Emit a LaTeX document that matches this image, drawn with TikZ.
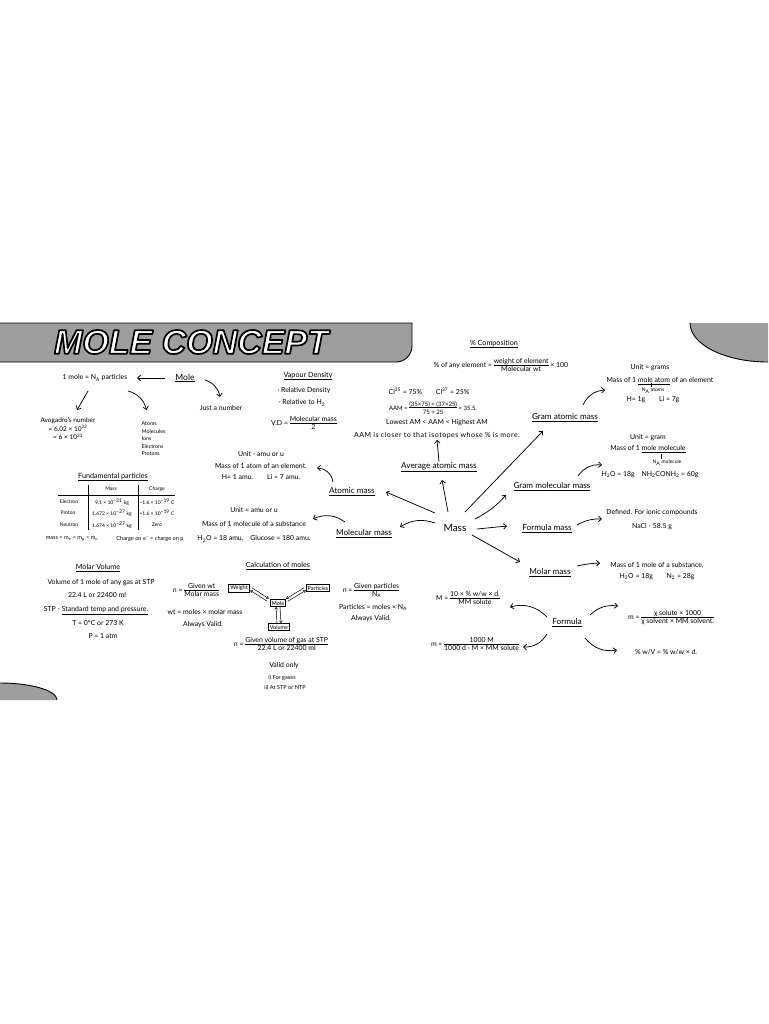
\documentclass[tikz,border=0pt]{standalone}
\usepackage{fontspec}
\setmainfont{Lato}
\newfontfamily\titlefont{Liberation Sans}
\usepackage{xcolor}
\usepackage{tikz}
\usetikzlibrary{arrows.meta, positioning}
\definecolor{bannergray}{RGB}{158,158,158}
\newcommand{\frc}[2]{\begin{tabular}{@{}c@{}}#1\\[-1.5pt]\hline\rule{0pt}{6.5pt}#2\end{tabular}}

\begin{document}
\begin{tikzpicture}[x=1pt, y=-1pt,
    txt/.style={font=\fontsize{6.9}{8}\selectfont, inner sep=0.5pt},
    small/.style={font=\fontsize{5}{6}\selectfont, inner sep=0.5pt},
    head/.style={font=\fontsize{7.2}{9}\selectfont, inner sep=0.5pt},
    big/.style={font=\fontsize{8.2}{10}\selectfont, inner sep=0.5pt},
    hand/.style={-{Straight Barb[length=3pt,width=5.5pt]}, line width=0.75pt},
    dtip/.style={-{Straight Barb[length=2pt,width=3pt]}, line width=0.5pt},
    box/.style={draw, line width=0.6pt, inner sep=1.5pt, font=\fontsize{5.5}{6.5}\selectfont}]

    \useasboundingbox (0,0) rectangle (768,1024);
    \fill[white] (0,0) rectangle (768,1024);

    % banner shapes
    \draw[fill=bannergray, line width=0.9pt] (0,323) -- (412,323) -- (412,346)
        arc[start angle=0, end angle=90, radius=16] -- (0,362);
    \fill[bannergray] (690,323) arc[start angle=180, end angle=90, x radius=78, y radius=39] -- (768,323) -- cycle;
    \draw[line width=0.9pt] (690,323) arc[start angle=180, end angle=90, x radius=78, y radius=39];
    \fill[bannergray] (0,683) arc[start angle=270, end angle=360, x radius=57, y radius=17] -- (0,700) -- cycle;
    \draw[line width=0.9pt] (0,683) arc[start angle=270, end angle=360, x radius=57, y radius=17];

    \node[inner sep=0pt, font=\titlefont\bfseries\itshape\fontsize{34}{36}\selectfont\addfontfeatures{FakeBold=5}] (title) at (191,342)
        {\special{pdf:literal direct 1 j}\special{pdf:bcolor [1 1 1] [0 0 0]}MOLE CONCEPT\special{pdf:ecolor}};

    % mole
    \node[txt] (onemole) at (95,378) {1 mole = N\textsubscript{A} particles};
    \node[font=\fontsize{8.5}{10}\selectfont, inner sep=0.5pt] (mole) at (185,378) {\underline{Mole}};
    \node[txt, font=\fontsize{6.5}{8.5}\selectfont, align=center] (avog) at (68,429)
        {Avogadro's number\\= 6.02 × 10\textsuperscript{23}\\= 6 × 10\textsuperscript{23}};
    \node[small, font=\fontsize{5.3}{7.5}\selectfont, align=left, anchor=west] (kinds) at (141,439)
        {Atoms\\Molecules\\Ions\\Electrons\\Protons};
    \node[txt] (justnum) at (221,408) {Just a number};

    \draw[hand] ([shift={(-20,0)}]mole.center) -- ([shift={(42,0)}]onemole.center);
    \draw[hand] ([shift={(-7,13)}]onemole.center) -- ([shift={(9,-19)}]avog.center);
    \draw[hand] ([shift={(33,13)}]onemole.center) to[bend left=30] ([shift={(-7,-29)}]kinds.center);
    \draw[hand] ([shift={(20,2)}]mole.center) to[bend left=30] ([shift={(-1,-11)}]justnum.center);

    % vapour density
    \node[head] (vdhead) at (308,376) {\underline{Vapour Density}};
    \node[txt] (vdrel1) at (304,391) {· Relative Density};
    \node[txt] (vdrel2) at (302,403) {· Relative to H\textsubscript{2}};
    \node[txt] (vdform) at (304,424) {V.D = \frc{Molecular mass}{2}};

    % percentage composition
    \node[head] (pchead) at (494,344) {\underline{\% Composition}};
    \node[txt] (pcform) at (501,366) {\% of any element = \frc{weight of element}{Molecular wt} × 100};
    \node[txt] (clline) at (429,391) {Cl\textsuperscript{35} = 75\%\qquad Cl\textsuperscript{37} = 25\%};
    \node[txt, font=\fontsize{6}{7}\selectfont] (aamform) at (433,409) {AAM = \frc{(35×75) + (37×25)}{75 + 25} = 35.5.};
    \node[txt] (lowest) at (437,423) {Lowest AM < AAM < Highest AM};
    \node[txt, font=\fontsize{7}{8}\selectfont\addfontfeatures{LetterSpace=7}] (closer) at (437,436) {AAM is closer to that isotopes whose \% is more.};
    \node[big] (avg) at (439,467) {\underline{Average atomic mass}};
    \draw[hand] (avg.north) -- (closer.south);

    % mass and its kinds
    \node[font=\fontsize{10}{12}\selectfont, inner sep=0.5pt] (mass) at (455,528) {Mass};
    \node[big] (atomic) at (352,492) {\underline{Atomic mass}};
    \node[big] (molec) at (364,534) {\underline{Molecular mass}};
    \node[big] (gam) at (565,418) {\underline{Gram atomic mass}};
    \node[big] (gmm) at (552,487) {\underline{Gram molecular mass}};
    \node[big] (fm) at (547,529) {\underline{Formula mass}};
    \node[big] (molar) at (550,573) {\underline{Molar mass}};

    \draw[hand] ([shift={(-20,-15)}]mass.center) -- ([shift={(34,0)}]atomic.center);
    \draw[hand] ([shift={(-7,-16)}]mass.center) -- ([shift={(3,13)}]avg.center);
    \draw[hand] ([shift={(10,-16)}]mass.center) -- ([shift={(-22,13)}]gam.center);
    \draw[hand] ([shift={(20,-9)}]mass.center) to[bend right=10] ([shift={(-46,8)}]gmm.center);
    \draw[hand] ([shift={(22,1)}]mass.center) -- ([shift={(-40,-3)}]fm.center);
    \draw[hand] ([shift={(17,7)}]mass.center) -- ([shift={(-30,-11)}]molar.center);
    \draw[hand] ([shift={(-20,-5)}]mass.center) to[bend right=25] ([shift={(36,-7)}]molec.center);

    % atomic / molecular mass notes
    \node[txt, font=\fontsize{6.9}{11.5}\selectfont, align=center] (atomtxt) at (261,466)
        {Unit - amu or u\\Mass of 1 atom of an element.\\H= 1 amu.\qquad Li = 7 amu.};
    \node[txt, font=\fontsize{6.9}{14}\selectfont, align=center] (molectxt) at (254,525)
        {Unit = amu or u\\Mass of 1 molecule of a substance\\H\textsubscript{2}O = 18 amu.\quad Glucose = 180 amu.};
    \draw[hand] ([shift={(-19,-10)}]atomic.center) to[bend right=40] ([shift={(56,2)}]atomtxt.center);
    \draw[hand] ([shift={(-19,-12)}]molec.center) to[bend right=30] ([shift={(59,-6)}]molectxt.center);

    % gram atomic mass notes
    \node[txt] (gamunit) at (650,368) {Unit = grams};
    \node[txt] (gamdef) at (660,381) {Mass of 1 \underline{mole atom} of an element};
    \node[small] (gamna) at (653,391) {N\textsubscript{A} atoms};
    \node[txt] (gamex) at (653,400) {H= 1g\qquad Li = 7g};
    \draw[line width=0.4pt] ([shift={(-2,-1)}]gamna.north) -- ++(0,-4);
    \draw[hand] ([shift={(18,-13)}]gam.center) to[bend left=30] ([shift={(-55,9)}]gamdef.center);

    % gram molecular mass notes
    \node[txt] (gmmunit) at (648,438) {Unit = gram};
    \node[txt] (gmmdef) at (648,449) {Mass of 1 \underline{mole molecule}};
    \node[small] (gmmna) at (667,463) {N\textsubscript{A} molecule};
    \node[txt] (gmmex) at (650,475) {H\textsubscript{2}O = 18g\quad NH\textsubscript{2}CONH\textsubscript{2} = 60g};
    \draw[line width=0.4pt] ([shift={(-6,-1)}]gmmna.north) -- ++(0,-5);
    \draw[hand] ([shift={(26,-11)}]gmm.center) to[bend left=30] ([shift={(-46,16)}]gmmdef.center);

    % formula mass / molar mass notes
    \node[txt] (fmdef) at (652,513) {Defined. For ionic compounds};
    \node[txt] (fmex) at (652,527) {NaCl - 58.5 g};
    \node[txt] (molardef) at (657,565) {Mass of 1 mole of a substance.};
    \node[txt] (molarex) at (657,577) {H\textsubscript{2}O = 18g\qquad N\textsubscript{2} = 28g};
    \draw[hand] ([shift={(30,-4)}]fm.center) to[bend left=15] ([shift={(-50,6)}]fmdef.center);
    \draw[hand] ([shift={(27,-7)}]molar.center) to[bend left=5] ([shift={(-57,-2)}]molardef.center);

    % fundamental particles
    \node[head] (fphead) at (113,477) {\underline{Fundamental particles}};
    \node[small] (thmass) at (111,489) {Mass};
    \node[small] (thcharge) at (157,489) {Charge};
    \node[small] (electron) at (69,502) {Electron};
    \node[small] (emass) at (112,502) {9.1 × 10\textsuperscript{−31} kg};
    \node[small] (echarge) at (157,502) {−1.6 × 10\textsuperscript{−19} C};
    \node[small] (proton) at (68,513) {Proton};
    \node[small] (pmass) at (112,513) {1.672 × 10\textsuperscript{−27} kg};
    \node[small] (pcharge) at (157,513) {+1.6 × 10\textsuperscript{−19} C};
    \node[small] (neutron) at (69,525) {Neutron};
    \node[small] (nmass) at (112,525) {1.674 × 10\textsuperscript{−27} kg};
    \node[small] (ncharge) at (157,525) {Zero};
    \draw[line width=0.5pt] (58,495) -- (175,495);
    \draw[line width=0.5pt] (88,485) -- (88,530);
    \draw[line width=0.5pt] (138,485) -- (138,530);
    \node[small, font=\fontsize{5.6}{6.5}\selectfont] (massorder) at (72,539) {mass = m\textsubscript{e} < m\textsubscript{p} < m\textsubscript{n}};
    \node[small, font=\fontsize{5.6}{6.5}\selectfont] (chargeeq) at (150,539) {Charge on e\textsuperscript{−} = charge on p};

    % molar volume
    \node[head] (mvhead) at (98,568) {\underline{Molar Volume}};
    \node[txt] (mvdef) at (101,583) {Volume of 1 mole of any gas at STP};
    \node[txt] (mvval) at (97,595) {22.4 L or 22400 ml};
    \node[txt] (mvstp) at (96,611) {STP - \underline{Standard temp and pressure.}};
    \node[txt] (mvtemp) at (98,623) {T = 0°C or 273 K};
    \node[txt] (mvpres) at (103,636) {P = 1 atm};

    % calculation of moles
    \node[head] (calchead) at (278,566) {\underline{Calculation of moles}};
    \node[box] (weight) at (239,588) {Weight};
    \node[box] (partbox) at (318,588) {Particles};
    \node[box] (molebox) at (278,603) {Mole};
    \node[box] (volbox) at (279,627) {Volume};
    \draw[dtip] ([shift={(-10.8,-1.7)}]molebox.center) -- ([shift={(11.2,2.3)}]weight.center);
    \draw[dtip] ([shift={(12.8,-0.3)}]weight.center) -- ([shift={(-9.2,-4.3)}]molebox.center);
    \draw[dtip] ([shift={(9.8,-1.7)}]molebox.center) -- ([shift={(-12.2,2.3)}]partbox.center);
    \draw[dtip] ([shift={(-13.8,-0.3)}]partbox.center) -- ([shift={(8.2,-4.3)}]molebox.center);
    \draw[dtip] ([shift={(-2,-4)}]volbox.center) -- ([shift={(-2,4)}]molebox.center);
    \draw[dtip] ([shift={(2,4)}]molebox.center) -- ([shift={(2,-4)}]volbox.center);

    \node[txt] (nwt) at (196,591) {n = \frc{Given wt}{Molar mass}};
    \node[txt] (wtmoles) at (205,612) {wt = moles × molar mass};
    \node[txt] (valid1) at (203,625) {Always Valid.};
    \node[txt] (npart) at (371,591) {n = \frc{Given particles}{N\textsubscript{A}}};
    \node[txt] (partmoles) at (373,607) {Particles = moles × N\textsubscript{A}};
    \node[txt] (valid2) at (371,619) {Always Valid.};
    \node[txt] (nvol) at (281,645) {n = \frc{Given volume of gas at STP}{22.4 L or 22400 ml}};
    \node[txt] (validonly) at (284,666) {Valid only};
    \node[small, font=\fontsize{5.6}{6.5}\selectfont] (forgas) at (282,678) {i) For gases};
    \node[small, font=\fontsize{5.6}{6.5}\selectfont] (atstp) at (285,688) {ii) At STP or NTP};

    % formula
    \node[txt] (Mform) at (468,599) {M = \frc{10 × \% w/w × d.}{MM solute}};
    \node[txt] (mform) at (475,645) {m = \frc{1000 M}{1000 d - M × MM solute}};
    \node[big] (formula) at (567,623) {\underline{Formula}};
    \node[txt] (xform) at (671,618) {m = \frc{χ solute × 1000}{χ solvent × MM solvent.}};
    \node[txt] (wvform) at (666,652) {\% w/V = \% w/w × d.};
    \draw[hand] ([shift={(-20,-6)}]formula.center) to[bend right=30] ([shift={(42,8)}]Mform.center);
    \draw[hand] ([shift={(-20,11)}]formula.center) to[bend left=30] ([shift={(48,2)}]mform.center);
    \draw[hand] ([shift={(23,-8)}]formula.center) to[bend left=25] ([shift={(-53,-12)}]xform.center);
    \draw[hand] ([shift={(18,15)}]formula.center) to[bend right=30] ([shift={(-49,-2)}]wvform.center);
\end{tikzpicture}
\end{document}
